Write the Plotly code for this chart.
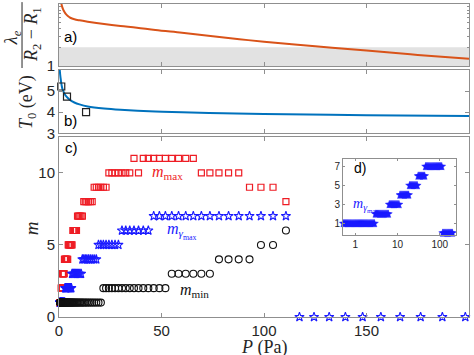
import plotly.graph_objects as go

# ---------------- data ----------------
# pressure grid (Pa)
P = [0.520, 0.551, 0.584, 0.619, 0.656, 0.696, 0.738, 0.782, 0.829, 0.879,
     0.931, 0.987, 1.046, 1.109, 1.176, 1.246, 1.321, 1.400, 1.484, 1.573,
     1.668, 1.768, 1.874, 1.986, 2.105, 2.232, 2.366, 2.508, 2.658, 2.818,
     2.987, 3.166, 3.356, 3.557, 3.771, 3.997, 4.237, 4.491, 4.760, 5.046,
     5.349, 5.670, 6.010, 6.370, 6.753, 7.158, 7.587, 8.043, 8.525, 9.037,
     9.579, 10.15, 10.76, 11.41, 12.09, 12.82, 13.59, 14.40, 15.27, 16.18,
     17.15, 18.18, 19.27, 20.43, 21.65, 22.95, 24.33, 25.79, 27.34, 28.98,
     30.72, 32.56, 34.51, 36.58, 38.78, 41.11, 43.57, 46.19, 48.96, 51.90,
     55.01, 58.31, 61.81, 65.52, 69.45, 73.61, 78.03, 82.71, 87.67, 92.93,
     98.51, 104.4, 110.7, 117.3, 124.4, 131.8, 139.7, 148.1, 157.0, 166.4,
     176.4, 187.0, 198.2]

N = None
m_max = [1, 1, 1, 1, 1, 1, 1, 1, 1, 1,
         1, 1, 1, 2, 2, 2, 2, 2, 2, 2,
         3, 3, 3, 3, 3, 3, 3, 3, 4, 4,
         4, 4, 4, 4, 4, 4, 4, 5, 5, 5,
         5, 5, 5, 5, 6, 6, 6, 6, 6, 7,
         7, 7, 7, 7, 8, 8, 8, 8, 8, 8,
         9, 9, 9, 9, 9, 9, 10, 10, 10, 10,
         10, 10, 10, 11, 10, 11, 11, 11, 11, 11,
         11, 11, 11, 11, 10, 10, 10, 10, 10, 9,
         9, 9, 8, N, N, N, N, N, N, N,
         N, N, N]

m_gmax = [1, 1, 1, 1, 1, 1, 1, 1, 1, 1,
          1, 1, 1, 1, 1, 1, 1, 1, 1, 1,
          1, 1, 1, 1, 1, 1, 1, 1, 1, 1,
          2, 2, 2, 2, 2, 2, 2, 2, 2, 2,
          2, 2, 2, 3, 3, 3, 3, 3, 3, 3,
          3, 3, 3, 4, 4, 4, 4, 4, 4, 4,
          4, 4, 5, 5, 5, 5, 5, 5, 5, 5,
          6, 6, 6, 6, 6, 6, 6, 7, 7, 7,
          7, 7, 7, 7, 7, 7, 7, 7, 7, 7,
          7, 7, 7, 0, 0, 0, 0, 0, 0, 0,
          0, 0, 0]

m_min = [1, 1, 1, 1, 1, 1, 1, 1, 1, 1,
         1, 1, 1, 1, 1, 1, 1, 1, 1, 1,
         1, 1, 1, 1, 1, 1, 1, 1, 1, 1,
         1, 1, 1, 1, 1, 1, 1, 1, 1, 1,
         1, 1, 1, 1, 1, 1, 1, 1, 1, 1,
         1, 1, 1, 1, 1, 1, 1, 1, 1, 1,
         1, 1, 1, 1, 2, 2, 2, 2, 2, 2,
         2, 2, 2, 2, 2, 2, 2, 2, 2, 2,
         3, 3, 3, 3, 3, 3, 4, 4, 4, 4,
         5, 5, 6, N, N, N, N, N, N, N,
         N, N, N]

# panel a: lambda_e / (R2 - R1)
Pa_curve = [1.0, 1.2, 1.6, 2.0, 2.6, 3.3, 4.3, 5.5, 7.5, 10, 14, 22, 30, 38, 47,
            60, 75, 88, 100, 125, 150, 175, 200]
ratio_curve = [11.0, 10.0, 8.9, 8.2, 7.5, 6.9, 6.4, 6.0, 5.67, 5.45, 5.19, 4.76,
               4.42, 4.15, 3.80, 3.43, 3.02, 2.70, 2.47, 2.08, 1.77, 1.51, 1.31]
band_x = [0, 200, 200, 0]
band_y = [1, 1, 2, 2]

# panel b: T0 (eV)
Pb_curve = [0.25, 0.5, 0.8, 1.1, 1.6, 2.4, 3.2, 4.3, 5.5, 7.5, 10, 14, 22, 30,
            47, 60, 80, 100, 150, 200]
T0_curve = [6.2, 5.85, 5.6, 5.38, 5.13, 4.93, 4.79, 4.67, 4.57, 4.46, 4.37,
            4.27, 4.17, 4.11, 4.03, 4.00, 3.95, 3.92, 3.86, 3.82]
P_sq = [1.1, 3.9, 13.2]
T0_sq = [5.22, 4.74, 4.00]

# ---------------- style ----------------
RED = '#ee1c24'
BLUE = '#1a1aff'
ORANGE = '#D95319'
LBLUE = '#0072BD'
AX = '#8f8f8f'
TXT = '#262626'
SANS = 'Liberation Sans, Arial, sans-serif'
SERIF = 'Liberation Serif, Times New Roman, serif'

fig = go.Figure()

# panel a
fig.add_trace(go.Scatter(x=band_x, y=band_y, xaxis='x3', yaxis='y3', fill='toself',
                         fillcolor='#e2e2e2', line=dict(width=0), mode='lines',
                         hoverinfo='skip', showlegend=False))
fig.add_trace(go.Scatter(x=Pa_curve, y=ratio_curve, xaxis='x3', yaxis='y3', mode='lines',
                         line=dict(color=ORANGE, width=2, shape='spline'), showlegend=False))
# panel b
fig.add_trace(go.Scatter(x=Pb_curve, y=T0_curve, xaxis='x2', yaxis='y2', mode='lines',
                         line=dict(color=LBLUE, width=2, shape='spline'), showlegend=False))
fig.add_trace(go.Scatter(x=P_sq, y=T0_sq, xaxis='x2', yaxis='y2', mode='markers',
                         marker=dict(symbol='square-open', size=7, color='#222222',
                                     line=dict(width=1.2)),
                         cliponaxis=False, showlegend=False))
# panel c
fig.add_trace(go.Scatter(x=P, y=m_max, xaxis='x', yaxis='y', mode='markers',
                         marker=dict(symbol='square-open', size=6, color=RED,
                                     line=dict(width=1.2)),
                         cliponaxis=False, showlegend=False))
fig.add_trace(go.Scatter(x=P, y=m_gmax, xaxis='x', yaxis='y', mode='markers',
                         marker=dict(symbol='star-open', size=7, color=BLUE,
                                     line=dict(width=1.1)),
                         cliponaxis=False, showlegend=False))
fig.add_trace(go.Scatter(x=P, y=m_min, xaxis='x', yaxis='y', mode='markers',
                         marker=dict(symbol='circle-open', size=7, color='#111111',
                                     line=dict(width=1.1)),
                         cliponaxis=False, showlegend=False))
# inset d
fig.add_trace(go.Scatter(x=P, y=m_gmax, xaxis='x4', yaxis='y4', mode='markers',
                         marker=dict(symbol='star', size=6, color=BLUE,
                                     line=dict(width=0.5, color=BLUE)),
                         cliponaxis=False, showlegend=False))

common = dict(showline=True, linecolor=AX, linewidth=1, mirror='ticks', ticks='inside',
              ticklen=4, tickcolor=AX, showgrid=False, zeroline=False, automargin=False,
              tickfont=dict(family=SANS, size=15, color=TXT))

fig.update_layout(
    width=474, height=355,
    margin=dict(l=59, r=5, t=4, b=38),
    paper_bgcolor='white', plot_bgcolor='white',
    xaxis=dict(domain=[0, 1], anchor='y', range=[0, 200],
               tickvals=[0, 50, 100, 150, 200], **common),
    yaxis=dict(domain=[0, 0.5757], anchor='x', range=[0, 12.5],
               tickvals=[0, 5, 10], **common),
    xaxis2=dict(domain=[0, 1], anchor='y2', range=[0, 200], showticklabels=False,
                tickvals=[0, 50, 100, 150, 200], **common),
    yaxis2=dict(domain=[0.587, 0.789], anchor='x2', range=[3, 6],
                tickvals=[3, 4, 5], **common),
    xaxis3=dict(domain=[0, 1], anchor='y3', range=[0, 200], showticklabels=False,
                tickvals=[0, 50, 100, 150, 200], **common),
    yaxis3=dict(domain=[0.802, 1.0], anchor='x3', type='log', range=[0, 1],
                tickvals=[1, 10], ticktext=['1', '10'],
                minor=dict(ticks='inside', ticklen=2, tickcolor=AX,
                           tickvals=[2, 3, 4, 5, 6, 7, 8, 9]),
                **common),
)

inset_common = dict(common)
inset_common['tickfont'] = dict(family=SANS, size=10, color=TXT)
inset_common['ticklen'] = 2
fig.update_layout(
    xaxis4=dict(domain=[0.693, 0.968], anchor='y4', type='log', range=[-0.29, 2.38],
                tickvals=[1, 10, 100], ticktext=['1', '10', '100'], **inset_common),
    yaxis4=dict(domain=[0.262, 0.505], anchor='x4', range=[-0.2, 7.8],
                tickvals=[1, 3, 5, 7], **inset_common),
)

ann = []
# panel labels
for txt, x, y, s in [('a)', 0.007, 0.8946, 15), ('b)', 0.007, 0.629, 15),
                     ('c)', 0.009, 0.543, 15), ('d)', 0.714, 0.476, 14)]:
    ann.append(dict(text=txt, x=x, y=y, xref='paper', yref='paper', showarrow=False,
                    xanchor='left', yanchor='middle',
                    font=dict(family=SANS, size=s, color='black')))


def lab(text, x, y, xref, yref, size, color, angle=0):
    return dict(text=text, x=x, y=y, xref=xref, yref=yref, showarrow=False,
                xanchor='center', yanchor='middle', textangle=angle,
                font=dict(family=SERIF, size=size, color=color))


# series labels
ann.append(lab('<i>m</i><sub>max</sub>', 53, 10.0, 'x', 'y', 16, RED))
ann.append(lab('<i>m</i><sub><i>γ</i><sub>max</sub></sub>', 60, 6.0, 'x', 'y', 16, BLUE))
ann.append(lab('<i>m</i><sub>min</sub>', 66, 1.85, 'x', 'y', 16, '#111111'))
ann.append(lab('<i>m</i><sub><i>γ</i><sub>max</sub></sub>', 0.24, 3.0, 'x4', 'y4', 14, BLUE))
# axis titles
ann.append(lab('<i>P</i> (Pa)', 0.502, -0.098, 'paper', 'paper', 18, TXT))
ann.append(lab('<i>m</i>', -0.068, 0.284, 'paper', 'paper', 19, TXT, -90))
ann.append(lab('<i>T</i><sub>0</sub> (eV)', -0.0756, 0.687, 'paper', 'paper', 18, TXT, -90))
ann.append(lab('<i>λ</i><sub><i>e</i></sub>', -0.1146, 0.891, 'paper', 'paper', 18, TXT, -90))
ann.append(lab('<i>R</i><sub>2</sub> − <i>R</i><sub>1</sub>', -0.0659, 0.904,
               'paper', 'paper', 18, TXT, -90))
fig.update_layout(annotations=ann)
fig.add_shape(type='line', xref='paper', yref='paper', x0=-0.0902, x1=-0.0902,
              y0=0.7955, y1=1.006, line=dict(color=TXT, width=1))

fig.write_html('out.html', config={'displayModeBar': False},
               post_script="document.body.style.margin='0px';document.body.style.overflow='hidden';")
